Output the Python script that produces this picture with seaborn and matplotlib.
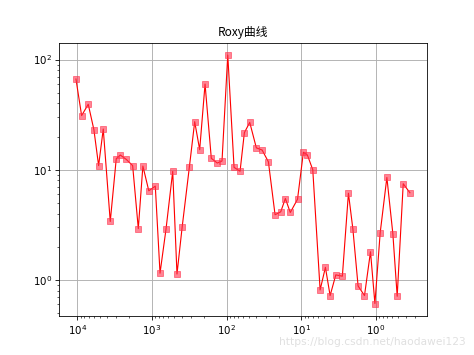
import pandas as pd
import matplotlib
matplotlib.use("Agg")
import matplotlib.pyplot as plt
import seaborn as sns

# frequency (log x, reversed) and Roxy values
freq = [10400, 8730, 7120, 5980, 5170, 4480, 3610, 3000, 2650, 2200,
        1810, 1520, 1320, 1100, 900, 778, 647, 526, 461, 393,
        315, 267, 229, 194, 160, 133, 115, 96.3, 79.3, 65.9,
        57.7, 48.9, 39.9, 33.4, 27.5, 22.4, 18.8, 16.3, 14.0, 11.2,
        9.35, 8.26, 7.00, 5.58, 4.74, 4.10, 3.44, 2.81, 2.33, 2.03,
        1.73, 1.42, 1.18, 1.03, 0.875, 0.712, 0.592, 0.518, 0.430, 0.350]
roxy = [66.6, 31.0, 39.3, 23.1, 10.9, 23.4, 3.39, 12.6, 13.6, 12.4,
        10.9, 2.92, 10.8, 6.44, 7.10, 1.15, 2.88, 9.66, 1.13, 3.02,
        10.5, 27.3, 15.2, 60.0, 12.7, 11.5, 12.0, 110, 10.5, 9.70,
        21.7, 26.9, 15.8, 15.1, 11.8, 3.90, 4.15, 5.48, 4.09, 5.40,
        14.4, 13.6, 10.0, 0.81, 1.30, 0.72, 1.11, 1.08, 6.12, 2.88,
        0.88, 0.72, 1.80, 0.61, 2.68, 8.51, 2.62, 0.71, 7.46, 6.18]

df = pd.DataFrame({"freq": freq, "roxy": roxy})

plt.rcParams["axes.unicode_minus"] = False
fig, ax = plt.subplots(figsize=(474 / 74, 355 / 74), dpi=74)

sns.lineplot(x="freq", y="roxy", data=df, ax=ax, sort=False, estimator=None,
             color="red", linewidth=1.1, marker="s", markersize=6,
             markerfacecolor=(1, 0.2, 0.3, 0.6), markeredgecolor=(1, 0.2, 0.3, 0.7))

ax.set_xscale("log")
ax.set_yscale("log")
ax.invert_xaxis()
ax.grid(True, color="#b0b0b0", linewidth=0.9)
ax.set_xlabel("")
ax.set_ylabel("")
ax.set_title("Roxy曲线", family=["Noto Sans CJK SC", "DejaVu Sans"], fontsize=11.5)

fig.text(0.982, 0.038, "https://blog.csdn.net/haodawei123", ha="right", va="center",
         color="#e0e0e0", fontsize=10.3)

plt.savefig("out.png", dpi=74)
